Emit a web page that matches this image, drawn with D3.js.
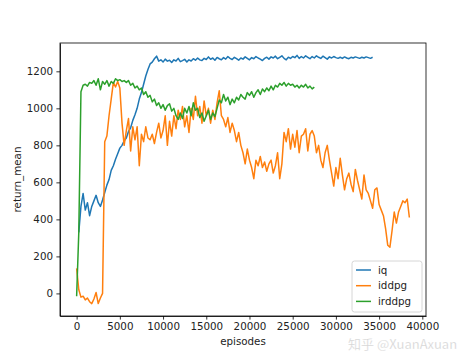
<!DOCTYPE html>
<html>
<head>
<meta charset="utf-8">
<script src="https://cdn.jsdelivr.net/npm/d3@7"></script>
<style>
  body { margin: 0; background: #fff; }
  svg { display: block; font-family: 'DejaVu Sans', sans-serif; }
</style>
</head>
<body>
<svg id="chart"></svg>
<script>
// episodes are logged every 250 steps
const step = 250;

const iq_start = 250;
const iq = [
  330, 470, 540, 450, 490, 420, 470, 500, 530, 490, 470, 505,
  545, 585, 615, 665, 690, 725, 755, 785, 800, 825, 840, 875,
  895, 935, 965, 1000, 1050, 1085, 1130, 1175, 1210, 1240, 1250, 1268,
  1282, 1255, 1262, 1250, 1266, 1255, 1260, 1248, 1262, 1256, 1270, 1252,
  1258, 1265, 1250, 1262, 1256, 1268, 1260, 1272, 1262, 1258, 1270, 1264,
  1278, 1265, 1272, 1260, 1275, 1268, 1262, 1274, 1266, 1280, 1270, 1264,
  1276, 1268, 1260, 1272, 1266, 1278, 1270, 1262, 1274, 1268, 1280, 1272,
  1266, 1258, 1270, 1276, 1266, 1278, 1272, 1282, 1268, 1276, 1284, 1270,
  1262, 1276, 1270, 1280, 1274, 1286, 1270, 1280, 1272, 1284, 1276, 1268,
  1280, 1272, 1284, 1276, 1270, 1282, 1274, 1266, 1278, 1272, 1280, 1274,
  1270, 1276, 1270, 1278, 1272, 1268, 1276, 1272, 1278, 1274, 1270, 1276,
  1272, 1278, 1274, 1270, 1276
];

const iddpg_start = 0;
const iddpg = [
  135, 20, -20, -15, -35, -25, -45, -55, -30, 5, -55, -25,
  0, 820, 850, 960, 1050, 1140, 1115, 1145, 1110, 920, 800, 880,
  945, 770, 900, 830, 900, 690, 860, 820, 900, 840, 830, 860,
  810, 870, 920, 840, 880, 960, 800, 930, 850, 960, 890, 990,
  940, 1010, 900, 960, 870, 1000, 940, 1065, 960, 1010, 920, 1040,
  960, 1000, 920, 990, 940, 1030, 1095, 960, 940, 900, 950, 870,
  920, 880, 820, 870, 800, 760, 700, 780, 720, 680, 620, 720,
  690, 740, 680, 710, 660, 700, 720, 650, 690, 760, 620, 700,
  870, 820, 890, 780, 860, 790, 880, 760, 850, 860, 890, 770,
  860, 880, 850, 760, 800, 720, 680, 760, 800, 720, 650, 580,
  680, 620, 730, 640, 560, 620, 650, 590, 550, 670, 610, 560,
  510, 640, 560, 540, 500, 460, 560, 570, 480, 450, 420, 350,
  260, 250, 340, 440, 380, 440, 470, 500, 490, 510, 410
];

const irddpg_start = 0;
const irddpg = [
  -15, 330, 1090, 1125, 1130, 1120, 1140, 1135, 1150, 1125, 1160, 1100,
  1145, 1130, 1150, 1120, 1145, 1135, 1160, 1150, 1155, 1145, 1150, 1140,
  1150, 1125, 1135, 1110, 1120, 1100, 1110, 1075, 1090, 1060, 1070, 1035,
  1050, 1015, 1030, 1000, 1020, 990, 1015, 1025, 985, 1000, 960, 940,
  975, 945, 1000, 975, 1010, 960, 1030, 990, 1000, 950, 975, 930,
  960, 990, 940, 975, 955, 1000, 1045, 1030, 1075, 1040, 1060, 1020,
  1050, 1030, 1060, 1045, 1075, 1060, 1050, 1085, 1070, 1090, 1060, 1085,
  1100, 1075, 1105, 1090, 1110, 1095, 1120, 1100, 1125, 1115, 1135, 1125,
  1140, 1120, 1135, 1125, 1130, 1115, 1125, 1110, 1125, 1115, 1130, 1110,
  1120, 1105, 1115
];

const x_ticks = [0, 5000, 10000, 15000, 20000, 25000, 30000, 35000, 40000];
const y_ticks = [0, 200, 400, 600, 800, 1000, 1200];

const series = [
  { name: 'iq', start: iq_start, values: iq, color: '#1f77b4' },
  { name: 'iddpg', start: iddpg_start, values: iddpg, color: '#ff7f0e' },
  { name: 'irddpg', start: irddpg_start, values: irddpg, color: '#2ca02c' }
];

class LineChart {

  constructor(config, data) {
    this.config = {
      parent: config.parent,
      width: config.width || 474,
      height: config.height || 355,
      margin: config.margin || { top: 43, right: 48, bottom: 39, left: 60 },
      xlabel: config.xlabel || '',
      ylabel: config.ylabel || ''
    }
    this.data = data.map(s => ({
      ...s,
      points: s.values.map((v, i) => ({ x: s.start + i * step, y: v }))
    }));
    this.init();
  }

  init() {
    let self = this;
    let margin = self.config.margin;

    self.svg = d3.select(self.config.parent)
      .attr('width', self.config.width)
      .attr('height', self.config.height);

    self.inner_width = self.config.width - margin.left - margin.right;
    self.inner_height = self.config.height - margin.top - margin.bottom;

    self.chart = self.svg.append('g')
      .attr('transform', `translate(${margin.left}, ${margin.top})`);

    self.xscale = d3.scaleLinear().range([0, self.inner_width]);
    self.yscale = d3.scaleLinear().range([self.inner_height, 0]);

    self.xaxis = d3.axisBottom(self.xscale)
      .tickValues(x_ticks)
      .tickSize(3.6)
      .tickPadding(3.4)
      .tickSizeOuter(0)
      .tickFormat(d3.format('d'));

    self.yaxis = d3.axisLeft(self.yscale)
      .tickValues(y_ticks)
      .tickSize(3.6)
      .tickPadding(3.4)
      .tickSizeOuter(0)
      .tickFormat(d3.format('d'));

    self.lines_group = self.chart.append('g');

    self.xaxis_group = self.chart.append('g')
      .attr('transform', `translate(0, ${self.inner_height})`);
    self.yaxis_group = self.chart.append('g');

    self.svg.append('text')
      .attr('x', margin.left + self.inner_width / 2)
      .attr('y', self.config.height - 10)
      .attr('text-anchor', 'middle')
      .attr('font-size', 10.3)
      .attr('fill', '#222')
      .text(self.config.xlabel);

    self.svg.append('text')
      .attr('transform', `rotate(-90)`)
      .attr('x', -(margin.top + self.inner_height / 2))
      .attr('y', 21)
      .attr('text-anchor', 'middle')
      .attr('font-size', 10.3)
      .attr('fill', '#222')
      .text(self.config.ylabel);
  }

  update() {
    let self = this;
    const all = self.data.flatMap(s => s.points);

    // matplotlib style 5% margins around the data
    const [xmin, xmax] = d3.extent(all, d => d.x);
    const [ymin, ymax] = d3.extent(all, d => d.y);
    const xpad = (xmax - xmin) * 0.05;
    const ypad = (ymax - ymin) * 0.05;
    self.xscale.domain([xmin - xpad, xmax + xpad]);
    self.yscale.domain([ymin - ypad, ymax + ypad]);

    self.render();
  }

  render() {
    let self = this;

    const line = d3.line()
      .x(d => self.xscale(d.x))
      .y(d => self.yscale(d.y));

    self.lines_group.selectAll('path')
      .data(self.data)
      .join('path')
      .attr('fill', 'none')
      .attr('stroke', d => d.color)
      .attr('stroke-width', 1.5)
      .attr('stroke-linejoin', 'round')
      .attr('d', d => line(d.points));

    self.xaxis_group.call(self.xaxis);
    self.yaxis_group.call(self.yaxis);

    // close the box
    self.chart.append('rect')
      .attr('width', self.inner_width)
      .attr('height', self.inner_height)
      .attr('fill', 'none')
      .attr('stroke', '#000')
      .attr('stroke-width', 0.8);

    self.chart.selectAll('.tick text')
      .attr('font-size', 10.3)
      .attr('font-family', "'DejaVu Sans', sans-serif")
      .attr('fill', '#222');
    self.chart.selectAll('.domain').attr('stroke-width', 0.8);
    self.chart.selectAll('.tick line').attr('stroke-width', 0.8);

    // legend, lower right
    const lg = self.chart.append('g')
      .attr('transform', `translate(${self.inner_width - 74}, ${self.inner_height - 55})`);
    lg.append('rect')
      .attr('width', 70)
      .attr('height', 51)
      .attr('rx', 2.5)
      .attr('fill', 'rgba(255,255,255,0.8)')
      .attr('stroke', '#cccccc')
      .attr('stroke-width', 0.8);
    const rows = lg.selectAll('g.row')
      .data(self.data)
      .join('g')
      .attr('class', 'row')
      .attr('transform', (d, i) => `translate(0, ${9 + i * 15.7})`);
    rows.append('line')
      .attr('x1', 4).attr('x2', 19)
      .attr('stroke', d => d.color)
      .attr('stroke-width', 1.5);
    rows.append('text')
      .attr('x', 26)
      .attr('dy', '0.35em')
      .attr('font-size', 10.3)
      .attr('fill', '#222')
      .text(d => d.name);
  }
}

let chart = new LineChart({
  parent: '#chart',
  xlabel: 'episodes',
  ylabel: 'return_mean'
}, series);
chart.update();

// site watermark
chart.svg.append('text')
  .attr('x', 348)
  .attr('y', 349)
  .attr('font-size', 13)
  .attr('font-family', "'Noto Sans CJK SC', 'DejaVu Sans', sans-serif")
  .attr('fill', 'rgba(190,190,190,0.75)')
  .attr('stroke', 'rgba(255,255,255,0.6)')
  .attr('stroke-width', 0.5)
  .text('知乎 @XuanAxuan');
</script>
</body>
</html>
